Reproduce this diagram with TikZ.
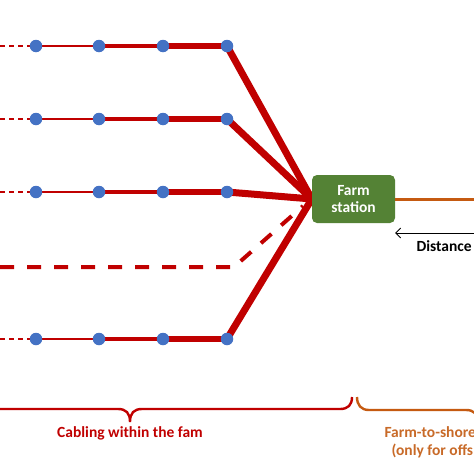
\documentclass[tikz,border=0pt]{standalone}
\usepackage{fontspec}
\setmainfont{Carlito}
\usetikzlibrary{backgrounds,arrows.meta}
\definecolor{cabred}{HTML}{C00000}
\definecolor{dotblue}{HTML}{4472C4}
\definecolor{stgreen}{HTML}{548235}
\definecolor{shoreor}{HTML}{C55A11}
\definecolor{shoretxt}{HTML}{C86A28}
\tikzset{
  turbine/.style={circle,fill=dotblue,inner sep=0pt,minimum size=12.5pt},
  stub/.style={cabred,line width=1.4pt,dash pattern=on 5pt off 4pt},
  segA/.style={cabred,line width=2pt},
  segB/.style={cabred,line width=3.6pt},
  segC/.style={cabred,line width=5.2pt},
  segD/.style={cabred,line width=7pt},
  planned/.style={cabred,line width=4pt,dash pattern=on 14pt off 13pt},
  station/.style={rectangle,rounded corners=5pt,fill=stgreen,text=white,
    minimum width=83pt,minimum height=48pt,align=center,font=\fontsize{15.5}{17.5}\selectfont\bfseries},
  lbl/.style={font=\fontsize{15.5}{18}\selectfont\bfseries},
  bracered/.style={cabred,line width=2.4pt},
  braceor/.style={shoreor,line width=2.4pt}
}
\begin{document}
\begin{tikzpicture}[x=1pt,y=-1pt]
\useasboundingbox (0,0) rectangle (474,474);
\clip (0,0) rectangle (474,474);
% station
\node[station] (st) at (353.5,199) {Farm\\station};
% turbines
\foreach \r/\y in {1/46,2/119,3/192,5/339}{
  \node[turbine] (t\r a) at (36,\y) {};
  \node[turbine] (t\r b) at (99,\y) {};
  \node[turbine] (t\r c) at (163,\y) {};
  \node[turbine] (t\r d) at (227,\y) {};
  \coordinate (s\r) at (0,\y);
}
\coordinate (p0) at (0,267);
\coordinate (p1) at (234,267);
\coordinate (p2) at (303,206);
\coordinate (shoreEnd) at (480,199);
\coordinate (distEnd) at (480,233);
\coordinate (distHead) at (395,233);
\begin{scope}[on background layer]
\foreach \r in {1,2,3,5}{
  \draw[stub] (s\r) -- (t\r a.center);
  \draw[segA] (t\r a.center) -- (t\r b.center);
  \draw[segB] (t\r b.center) -- (t\r c.center);
  \draw[segC] (t\r c.center) -- (t\r d.center);
  \draw[segD] (t\r d.center) -- (st.west);
}
\draw[planned] (p0) -- (p1) -- (p2);
\end{scope}
% farm-to-shore cable
\draw[shoreor,line width=3pt] (st.east) -- (shoreEnd);
% distance arrow
\draw[black,line width=0.9pt,{Straight Barb[length=5pt,width=10pt]}-] (distHead) -- (distEnd);
\node[lbl,anchor=west] (dist) at (413,246) {Distance};
% braces
\draw[bracered] (-10,409) -- (118,409) .. controls (126,409) and (130,413) .. (130,422)
  .. controls (130,413) and (134,409) .. (142,409) -- (340,409)
  .. controls (348,409) and (352,405) .. (352,397);
\draw[braceor] (357,397) .. controls (357,405) and (361,410) .. (369,410) -- (466,410)
  .. controls (474,410) and (478,414) .. (478,423);
\node[lbl,text=cabred] (cab) at (130,433) {Cabling within the fam};
\node[lbl,text=shoretxt,anchor=west] (shore1) at (381,432) {Farm-to-shore};
\node[lbl,text=shoretxt,anchor=west] (shore2) at (388,451) {(only for offs};
\end{tikzpicture}
\end{document}
